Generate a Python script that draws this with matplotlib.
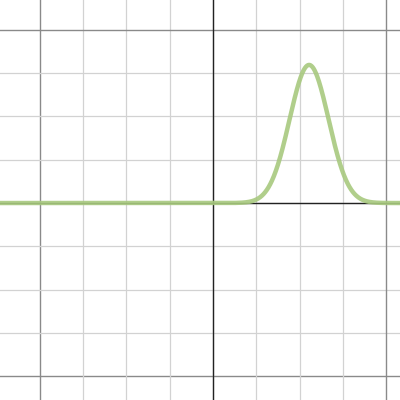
"""Desmos-style graph of a single bump on a plain grid."""
import numpy as np
import matplotlib
matplotlib.use('Agg')
import matplotlib.pyplot as plt

# view window in graph units
x_range = (-4.92, 4.32)
y_range = (-4.55, 4.69)

# bump: peak height, centre, spread
peak_height = 3.19
peak_center = 2.22
peak_sigma = 0.45

minor_step = 1
major_step = 4

fig = plt.figure(figsize=(4, 4), dpi=100)
ax = fig.add_axes([0, 0, 1, 1])
ax.set_xlim(*x_range)
ax.set_ylim(*y_range)

for v in np.arange(-8, 9, minor_step):
    is_major = v % major_step == 0 and v != 0
    col = '#8a8a8a' if is_major else '#d2d2d2'
    lw = 1.0 if is_major else 0.9
    ax.axvline(v, color=col, lw=lw, zorder=1)
    ax.axhline(v, color=col, lw=lw, zorder=1)
ax.axvline(0, color='#222222', lw=1.0, zorder=2)
ax.axhline(0, color='#222222', lw=1.0, zorder=2)

xs = np.linspace(x_range[0], x_range[1], 1200)
ys = peak_height * np.exp(-(xs - peak_center) ** 2 / (2 * peak_sigma ** 2))
ax.plot(xs, ys, color='#a8c97f', lw=3.2, alpha=0.9, zorder=3,
        solid_capstyle='round')

ax.set_xticks([]); ax.set_yticks([])
for s in ax.spines.values():
    s.set_visible(False)
fig.savefig('out.png', dpi=100)
